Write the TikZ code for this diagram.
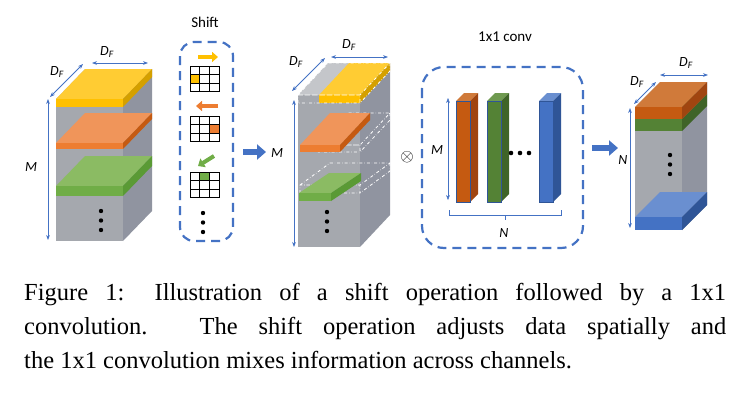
\documentclass[tikz,border=0pt]{standalone}
\usepackage{fontspec}
\setmainfont{Liberation Serif}
\newfontfamily\calf{Carlito}
\usetikzlibrary{arrows.meta}
\definecolor{ylF}{HTML}{FFC000}\definecolor{ylT}{HTML}{FFCC33}\definecolor{ylS}{HTML}{D4A000}
\definecolor{orF}{HTML}{ED7D31}\definecolor{orT}{HTML}{F0955A}\definecolor{orS}{HTML}{C55A11}
\definecolor{grF}{HTML}{70AD47}\definecolor{grT}{HTML}{8BBB63}\definecolor{grS}{HTML}{5A9A35}
\definecolor{gyF}{HTML}{A5A8AE}\definecolor{gyT}{HTML}{C4C6CA}\definecolor{gyS}{HTML}{9094A0}
\definecolor{buF}{HTML}{4472C4}\definecolor{buT}{HTML}{6A8FD0}\definecolor{buS}{HTML}{2F5597}
\definecolor{dorF}{HTML}{C55A11}\definecolor{dorT}{HTML}{D07A3A}\definecolor{dorS}{HTML}{A04510}
\definecolor{dgrF}{HTML}{548235}\definecolor{dgrT}{HTML}{6F9A50}\definecolor{dgrS}{HTML}{3F6428}
\definecolor{bl}{HTML}{4472C4}
% x y w h dx dy front top side
\newcommand\myslab[9]{%
  \fill[#8] (#1,#2) -- ({#1+#5},{#2-#6}) -- ({#1+#3+#5},{#2-#6}) -- ({#1+#3},#2) -- cycle;
  \fill[#9] ({#1+#3},#2) -- ({#1+#3+#5},{#2-#6}) -- ({#1+#3+#5},{#2+#4-#6}) -- ({#1+#3},{#2+#4}) -- cycle;
  \fill[#7] (#1,#2) rectangle ({#1+#3},{#2+#4});}
\newcommand\myoutl[6]{%
  \draw[white,dash dot,thick] (#1,#2) -- ({#1+#5},{#2-#6}) -- ({#1+#3+#5},{#2-#6}) -- ({#1+#3},#2) -- cycle
   (#1,{#2+#4}) rectangle ({#1+#3},#2) ({#1+#3+#5},{#2-#6}) -- ({#1+#3+#5},{#2+#4-#6}) -- ({#1+#3},{#2+#4});}
\tikzset{dim/.style={bl,thick,{Stealth[length=5pt]}-{Stealth[length=5pt]}},
  lab/.style={font=\calf\itshape\fontsize{14}{14}\selectfont},
  dbox/.style={bl,line width=2.2pt,dash pattern=on 9pt off 6pt,rounded corners=14pt},
  barrow/.style={bl,line width=6pt,-{Triangle[length=9pt,width=15pt]}}}
\newcommand\vdts[2]{\foreach \k in {0,1,2}{\fill (#1,{#2+\k*9.5}) circle (2.2);}}
\begin{document}
\begin{tikzpicture}[x=1pt,y=-1pt]
\useasboundingbox (0,0) rectangle (750,400);
\fill[white] (0,0) rectangle (750,400);
% cube 1
\myslab{56}{99}{67}{142}{29}{30}{gyF}{gyT}{gyS}
\myslab{56}{99}{67}{8}{29}{30}{ylF}{ylT}{ylS}
\myslab{56}{143}{67}{6}{29}{30}{orF}{orT}{orS}
\myslab{56}{186}{67}{10}{29}{30}{grF}{grT}{grS}
\vdts{101}{211}
\draw[dim] (92,63)--(148,63); \node[lab] at (107,52) {D\textsubscript{F}};
\draw[dim] (83,64)--(50,97); \node[lab] at (57,72) {D\textsubscript{F}};
\draw[dim] (48,99)--(48,240); \node[lab] at (31,167) {M};
% shift box
\node[font=\calf\fontsize{15}{15}\selectfont] at (205,22) {Shift};
\draw[dbox] (180,42) rectangle (233,241);
\foreach \gx/\gy/\cx/\cy/\c in {190/66/0/1/ylF,190/116/2/1/orF,190/172/1/0/grF}{
  \fill[\c] ({\gx+\cx*9.7},{\gy+\cy*8.5}) rectangle +(9.7,8.5);
  \foreach \i in {0,1,2,3}{
    \draw[black,thick] ({\gx+\i*9.7},\gy) -- ({\gx+\i*9.7},{\gy+25.5});
    \draw[black,thick] (\gx,{\gy+\i*8.5}) -- ({\gx+29.1},{\gy+\i*8.5});}}
\draw[ylF,line width=4pt,-{Triangle[length=6pt,width=10pt]}] (198,57)--(218,57);
\draw[orF,line width=4pt,-{Triangle[length=6pt,width=10pt]}] (218,106)--(196,106);
\draw[grF,line width=4pt,-{Triangle[length=6pt,width=10pt]}] (214,156)--(198,166);
\vdts{203}{213}
\draw[barrow] (243,152)--(266,152);
% cube 2
\myslab{298}{95}{62}{152}{30}{32}{gyF}{gyT}{gyS}
\myslab{319}{95}{41}{8}{30}{32}{ylF}{ylT}{ylS}
\myoutl{298}{95}{62}{8}{30}{32}
\myoutl{318}{145}{42}{7}{30}{32}
\myslab{300}{145}{40}{7}{30}{32}{orF}{orT}{orS}
\myoutl{300}{185}{60}{8}{30}{22}
\myslab{299}{193}{32}{8}{30}{20}{grF}{grT}{grS}
\vdts{327}{212}
\draw[dim] (331,57)--(388,57); \node[lab] at (349,45) {D\textsubscript{F}};
\draw[dim] (325,58)--(292,91); \node[lab] at (296,62) {D\textsubscript{F}};
\draw[dim] (294,100)--(294,247); \node[lab] at (277,153) {M};
\node[font=\fontsize{16}{16}\selectfont] at (407,157) {$\otimes$};
% conv box
\node[font=\calf\fontsize{15}{15}\selectfont] at (505,37) {1x1 conv};
\draw[dbox,rounded corners=22pt] (422,67) rectangle (583,248);
\myslab{456}{101}{14}{101}{8}{8}{dorF}{dorT}{dorS}
\myslab{487}{101}{14}{101}{8}{8}{dgrF}{dgrT}{dgrS}
\myslab{539}{101}{14}{101}{8}{8}{buF}{buT}{buS}
\foreach \a in {456,487,539}{\draw[buS,thin] (\a,101) rectangle +(14,101);}
\foreach \k in {0,1,2}{\fill ({511+\k*9},153) circle (2.3);}
\draw[dim,thin] (448,98)--(448,200); \node[lab] at (437,150) {M};
\draw[bl,thin] (449,210)--(449,215)--(561,215)--(561,210) (505,215)--(505,220);
\node[lab] at (504,233) {N};
\draw[barrow] (592,148)--(618,148);
% cube 3
\myslab{635}{107}{47}{123}{25}{25}{gyF}{gyT}{gyS}
\myslab{635}{119}{47}{12}{25}{25}{dgrF}{dgrT}{dgrS}
\myslab{635}{107}{47}{12}{25}{25}{dorF}{dorT}{dorS}
\myslab{635}{217}{47}{13}{25}{25}{buF}{buT}{buS}
\vdts{670}{155}
\draw[dim] (660,75)--(708,75); \node[lab] at (686,63) {D\textsubscript{F}};
\draw[dim] (656,82)--(634,104); \node[lab] at (637,82) {D\textsubscript{F}};
\draw[dim] (630,108)--(630,228); \node[lab] at (623,160) {N};
% caption
\node[anchor=north west,text width=702pt,align=justify,inner sep=0pt,
  font=\fontsize{24.5}{34}\selectfont] at (24,283)
 {Figure 1: Illustration of a shift operation followed by a 1x1\linebreak
  convolution. The shift operation adjusts data spatially and\linebreak
  the 1x1 convolution mixes information across channels.};
\end{tikzpicture}
\end{document}
